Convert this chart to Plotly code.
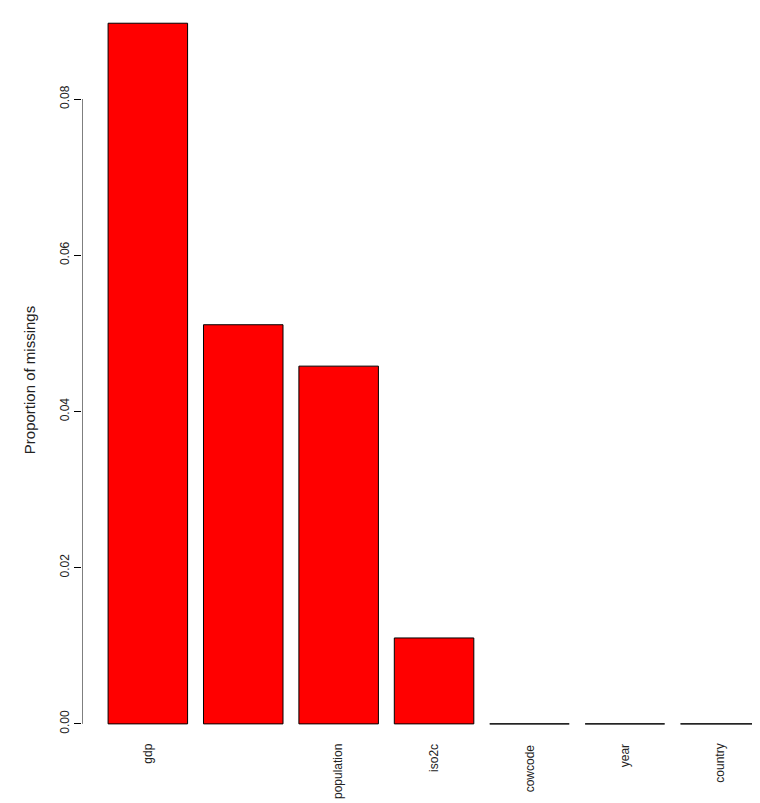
import plotly.graph_objects as go

categories = ["gdp", "", "population", "iso2c", "cowcode", "year", "country"]
values = [0.0897, 0.0511, 0.0458, 0.0110, 0.0, 0.0, 0.0]
yticks = [0.00, 0.02, 0.04, 0.06, 0.08]
ytick_labels = ["0.00", "0.02", "0.04", "0.06", "0.08"]

xpos = [0.7 + 1.2 * i for i in range(len(categories))]

fig = go.Figure(go.Bar(x=xpos, y=values, width=1.0,
                       marker=dict(color="#FF0000", line=dict(color="black", width=1))))

for x, c in zip(xpos, categories):
    if c:
        fig.add_annotation(x=x, y=0, text=c, textangle=-90, showarrow=False,
                           xanchor="center", yanchor="top", yshift=-18,
                           font=dict(size=12, color="#222"))

fig.add_shape(type="line", xref="x", yref="y", x0=-0.128, x1=-0.128, y0=0, y1=0.08,
              line=dict(color="black", width=1))

fig.update_layout(
    width=760, height=803, plot_bgcolor="white", paper_bgcolor="white",
    margin=dict(l=74, r=0, t=0, b=59), showlegend=False,
    font=dict(family="Liberation Sans, Arial", size=12, color="#222"),
    xaxis=dict(range=[-0.128, 8.5], showticklabels=False, showgrid=False,
               zeroline=False, showline=False, ticks=""),
    yaxis=dict(range=[-0.0036, 0.09165], tickvals=yticks, ticktext=ytick_labels,
               tickangle=-90, ticks="outside", ticklen=7, tickcolor="black",
               showgrid=False, zeroline=False, showline=False,
               title=dict(text="Proportion of missings", font=dict(size=15), standoff=18)),
)
fig.write_html("out.html")
